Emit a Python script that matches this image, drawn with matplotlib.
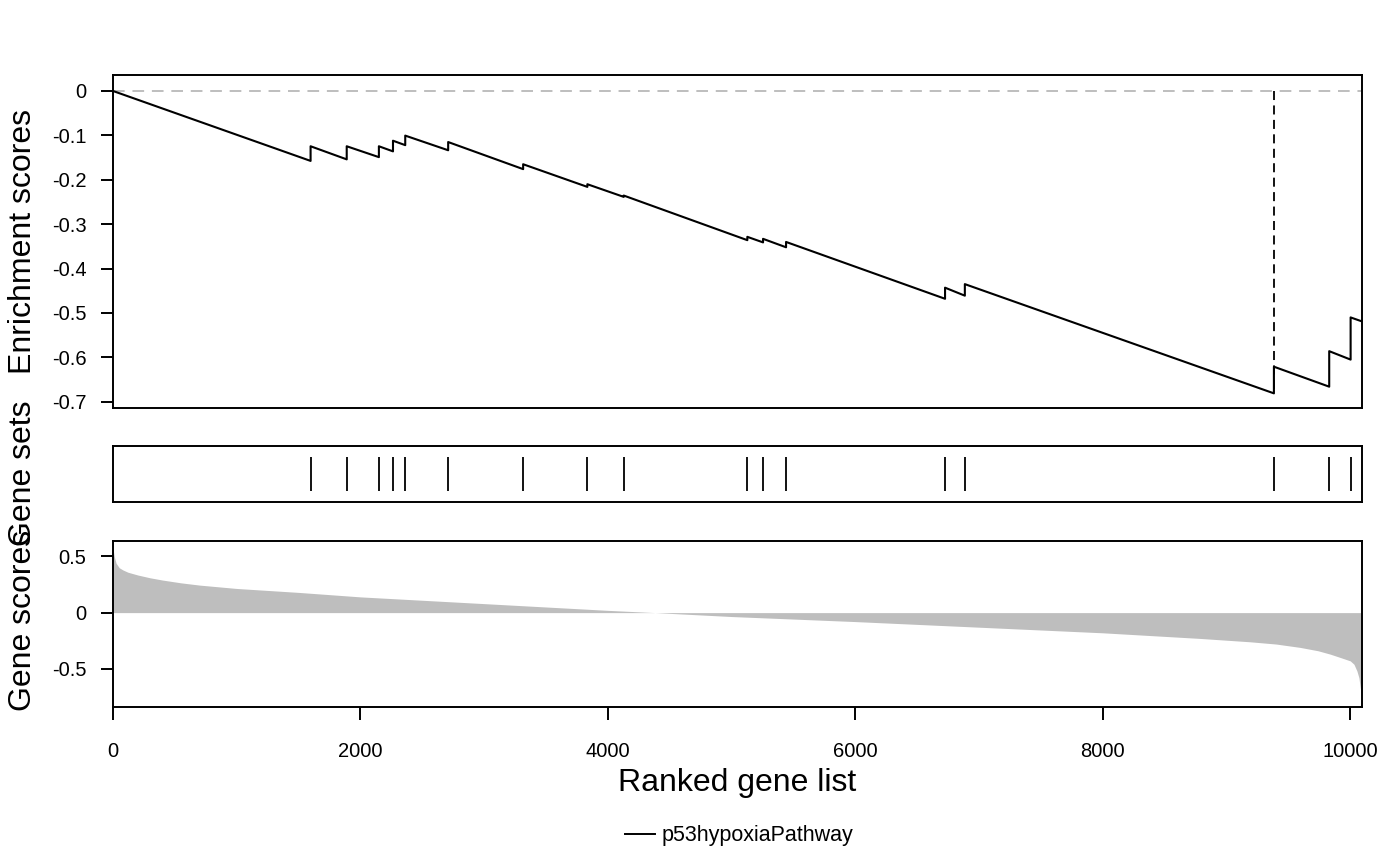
import matplotlib
matplotlib.use("Agg")
import matplotlib.pyplot as plt
from matplotlib.lines import Line2D

plt.rcParams['font.family'] = ['Liberation Sans', 'DejaVu Sans']
plt.rcParams['axes.unicode_minus'] = False

# positions of the gene set members in the ranked list
hits = [1597, 1889, 2149, 2263, 2362, 2709, 3315, 3834, 4128,
        5127, 5254, 5440, 6725, 6885, 9383, 9830, 10003]
# running enrichment score just before / just after each hit
es_before = [-0.1575, -0.154, -0.149, -0.136, -0.122, -0.1335, -0.176, -0.216, -0.2385,
             -0.336, -0.341, -0.352, -0.468, -0.461, -0.681, -0.666, -0.605]
es_after = [-0.1245, -0.1245, -0.1245, -0.112, -0.1005, -0.115, -0.165, -0.210, -0.2355,
            -0.3285, -0.333, -0.340, -0.443, -0.435, -0.621, -0.586, -0.510]
n_genes = 10095
es_end = -0.519
es_min_pos = 9383
es_min = -0.681

# ranked gene scores
rank_pts = [0, 10, 25, 50, 80, 120, 200, 300, 400, 550, 700, 1000, 1500, 2000, 2500, 3000,
            3500, 4000, 4380, 5000, 6000, 7000, 8000, 8785, 9190, 9400, 9595, 9740, 9838,
            9920, 10000, 10030, 10054, 10070, 10080, 10090, 10095]
score_pts = [0.57, 0.50, 0.44, 0.40, 0.38, 0.36, 0.335, 0.31, 0.29, 0.265, 0.245, 0.215, 0.18,
             0.14, 0.11, 0.08, 0.05, 0.02, 0.0, -0.035, -0.08, -0.13, -0.18, -0.23, -0.26,
             -0.28, -0.31, -0.34, -0.37, -0.40, -0.43, -0.46, -0.52, -0.58, -0.66, -0.74, -0.79]

es_ticks = [0, -0.1, -0.2, -0.3, -0.4, -0.5, -0.6, -0.7]
gs_ticks = [0.5, 0, -0.5]
x_ticks = [0, 2000, 4000, 6000, 8000, 10000]
set_name = "p53hypoxiaPathway"

W, H = 1400, 866
fig = plt.figure(figsize=(14, 8.66), dpi=100)

def box(l, t, r, b):
    return [l / W, 1 - b / H, (r - l) / W, (b - t) / H]

ax1 = fig.add_axes(box(113, 75, 1362, 408))
ax2 = fig.add_axes(box(113, 446, 1362, 502))
ax3 = fig.add_axes(box(113, 541, 1362, 707))

for ax in (ax1, ax2, ax3):
    ax.set_xlim(0, n_genes)
    for s in ax.spines.values():
        s.set_linewidth(1.4)
    ax.tick_params(axis='both', length=9, width=1.4, labelsize=14.5, pad=10)

# running enrichment score
xs = [0]
ys = [0]
for h, b, a in zip(hits, es_before, es_after):
    xs += [h, h]
    ys += [b, a]
xs.append(n_genes)
ys.append(es_end)
ax1.axhline(0, color='#bebebe', lw=1.4, ls=(0, (6, 4)))
ax1.plot([es_min_pos, es_min_pos], [0, es_min], color='black', lw=1.3, ls=(0, (5, 3)))
ax1.plot(xs, ys, color='black', lw=1.5)
ax1.set_ylim(-0.714, 0.036)
ax1.set_yticks(es_ticks)
ax1.set_yticklabels([f"{t:g}" for t in es_ticks])
ax1.set_xticks([])

# gene set hits
ax2.vlines(hits, 0.19, 0.81, color='black', lw=1.3)
ax2.set_ylim(0, 1)
ax2.set_xticks([])
ax2.set_yticks([])

# gene scores
ax3.fill_between(rank_pts, score_pts, 0, color='#bebebe', lw=0)
ax3.set_ylim(-0.841, 0.638)
ax3.set_yticks(gs_ticks)
ax3.set_yticklabels([f"{t:g}" for t in gs_ticks])
ax3.set_xticks(x_ticks)
ax3.set_xticklabels([str(t) for t in x_ticks])
ax3.tick_params(axis='x', pad=16)

lab = dict(fontsize=23, rotation=90, ha='center', va='center')
fig.text(23 / W, 1 - 241 / H, "Enrichment scores", **lab)
fig.text(23 / W, 1 - 473 / H, "Gene sets", **lab)
fig.text(23 / W, 1 - 620 / H, "Gene scores", **lab)
fig.text(737.5 / W, 1 - 783 / H, "Ranked gene list", fontsize=23, ha='center', va='center')

fig.legend([Line2D([], [], color='black', lw=1.4)], [set_name],
           loc='center', bbox_to_anchor=(739 / W, 1 - 836 / H), frameon=False,
           fontsize=15.5, handlelength=1.4, handletextpad=0.33)

fig.savefig("out.png", dpi=100)
